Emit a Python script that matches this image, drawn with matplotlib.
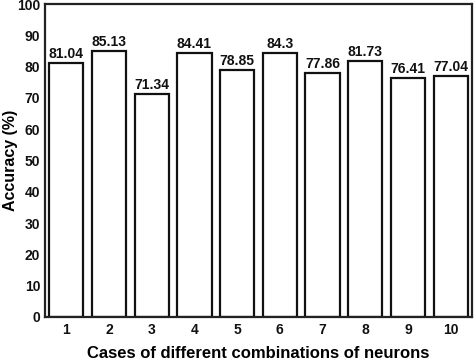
import matplotlib
matplotlib.use("Agg")
import matplotlib.pyplot as plt

cases = [1, 2, 3, 4, 5, 6, 7, 8, 9, 10]
accuracy = [81.04, 85.13, 71.34, 84.41, 78.85, 84.3, 77.86, 81.73, 76.41, 77.04]
labels = ["81.04", "85.13", "71.34", "84.41", "78.85", "84.3", "77.86", "81.73", "76.41", "77.04"]

plt.rcParams['font.family'] = ['Liberation Sans', 'DejaVu Sans']
plt.rcParams['font.weight'] = 'bold'

fig = plt.figure(figsize=(4.74, 3.6), dpi=100)
ax = fig.add_axes([45/474, 43/360, 427/474, 313/360])

ax.bar(cases, accuracy, width=0.8, facecolor='white', edgecolor='#111111', linewidth=1.6)
for x, y, t in zip(cases, accuracy, labels):
    ax.text(x, y + 0.6, t, ha='center', va='bottom', fontsize=10, fontweight='bold', color='#111111')

ax.set_xlim(0.5, 10.5)
ax.set_ylim(0, 100)
ax.set_xticks(cases)
ax.set_yticks(range(0, 101, 10))
ax.tick_params(axis='both', length=0, labelsize=10, colors='#111111')
ax.tick_params(axis='y', pad=3.5)
ax.tick_params(axis='x', pad=4.5)
for lbl in ax.get_xticklabels() + ax.get_yticklabels():
    lbl.set_fontweight('bold')
for s in ax.spines.values():
    s.set_linewidth(1.6)
    s.set_color('#222222')

ax.set_xlabel('Cases of different combinations of neurons', fontsize=12, fontweight='bold', labelpad=6)
ax.set_ylabel('Accuracy (%)', fontsize=11.5, fontweight='bold')
ax.yaxis.label.set_va('center')
ax.yaxis.set_label_coords(-34/427, 0.5)

fig.savefig('out.png', dpi=100)
